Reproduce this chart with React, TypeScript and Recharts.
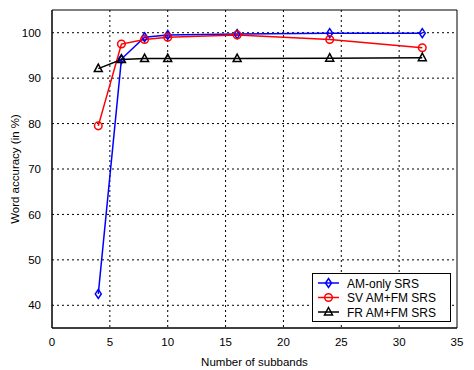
import React from 'react';
import { LineChart, Line, XAxis, YAxis, CartesianGrid, ReferenceArea } from 'recharts';

const subbands = [4, 6, 8, 10, 16, 24, 32];
const amOnly = [42.5, 94.2, 99.0, 99.5, 99.7, 99.9, 99.9];
const svAmFm = [79.5, 97.5, 98.5, 99.0, 99.5, 98.5, 96.7];
const frAmFm = [92.1, 94.1, 94.3, 94.3, 94.3, 94.4, 94.5];
const xTicks = [0, 5, 10, 15, 20, 25, 30, 35];
const yTicks = [40, 50, 60, 70, 80, 90, 100];
const seriesNames = ['AM-only SRS', 'SV AM+FM SRS', 'FR AM+FM SRS'];

const data = subbands.map((s, i) => ({ x: s, am: amOnly[i], sv: svAmFm[i], fr: frAmFm[i] }));

const FONT = 'Liberation Sans, Arial, sans-serif';

const Diamond = (color: string) => (p: any) => {
  const { cx, cy, index } = p;
  if (cx == null || cy == null) return <g key={index} />;
  return <path key={index} d={`M${cx},${cy - 4.5}L${cx + 3},${cy}L${cx},${cy + 4.5}L${cx - 3},${cy}Z`} fill="none" stroke={color} strokeWidth={1.5} />;
};
const Circle = (color: string) => (p: any) => {
  const { cx, cy, index } = p;
  if (cx == null || cy == null) return <g key={index} />;
  return <circle key={index} cx={cx} cy={cy} r={3.8} fill="none" stroke={color} strokeWidth={1.5} />;
};
const Triangle = (color: string) => (p: any) => {
  const { cx, cy, index } = p;
  if (cx == null || cy == null) return <g key={index} />;
  return <path key={index} d={`M${cx},${cy - 4.5}L${cx + 4},${cy + 3}L${cx - 4},${cy + 3}Z`} fill="none" stroke={color} strokeWidth={1.5} />;
};

const markers = [Diamond('#0000ff'), Circle('#ff0000'), Triangle('#000000')];
const colors = ['#0000ff', '#ff0000', '#000000'];

const LegendBox = () => (
  <svg width={140} height={50} style={{ display: 'block' }}>
    <rect x={0.5} y={0.5} width={138} height={48} fill="#fff" stroke="#000" strokeWidth={1} />
    {seriesNames.map((n, i) => {
      const y = 10 + i * 14.5;
      const M = markers[i];
      return (
        <g key={n}>
          <line x1={6} x2={27} y1={y} y2={y} stroke={colors[i]} strokeWidth={1.5} />
          {M({ cx: 16.5, cy: y, index: i })}
          <text x={35} y={y + 4.5} fontSize={12} fontFamily={FONT} fill="#000">{n}</text>
        </g>
      );
    })}
  </svg>
);

export default function App() {
  return (
    <div style={{ position: 'absolute', left: 0, top: 0, width: 474, height: 370, background: '#fff' }}>
      <LineChart width={474} height={370} data={data} margin={{ top: 10, right: 17, bottom: 12, left: 12 }}>
        <CartesianGrid stroke="#000" strokeDasharray="2 3" strokeWidth={1} horizontalValues={yTicks} verticalValues={[5, 10, 15, 20, 25, 30]} />
        <ReferenceArea x1={0} x2={35} y1={35} y2={105} fill="none" stroke="#000" strokeWidth={1} strokeOpacity={1} />
        <XAxis
          dataKey="x"
          type="number"
          domain={[0, 35]}
          ticks={xTicks}
          tickLine={false}
          axisLine={{ stroke: '#000' }}
          tick={{ fill: '#000', fontSize: 11.5, fontFamily: FONT }}
          tickMargin={4}
          height={30}
          label={{ value: 'Number of subbands', position: 'insideBottom', offset: -8, fill: '#000', fontSize: 11.5, fontFamily: FONT }}
        />
        <YAxis
          type="number"
          domain={[35, 105]}
          ticks={yTicks}
          tickLine={false}
          axisLine={{ stroke: '#000' }}
          tick={{ fill: '#000', fontSize: 11.5, fontFamily: FONT }}
          tickMargin={5}
          width={40}
          label={{ value: 'Word accuracy (in %)', angle: -90, position: 'insideLeft', offset: 3, fill: '#000', fontSize: 11.5, fontFamily: FONT, style: { textAnchor: 'middle' } }}
        />
        <Line dataKey="am" stroke="#0000ff" strokeWidth={1.5} dot={markers[0]} isAnimationActive={false} />
        <Line dataKey="sv" stroke="#ff0000" strokeWidth={1.5} dot={markers[1]} isAnimationActive={false} />
        <Line dataKey="fr" stroke="#000000" strokeWidth={1.5} dot={markers[2]} isAnimationActive={false} />
      </LineChart>
      <div style={{ position: 'absolute', left: 312, top: 273 }}>
        <LegendBox />
      </div>
    </div>
  );
}
